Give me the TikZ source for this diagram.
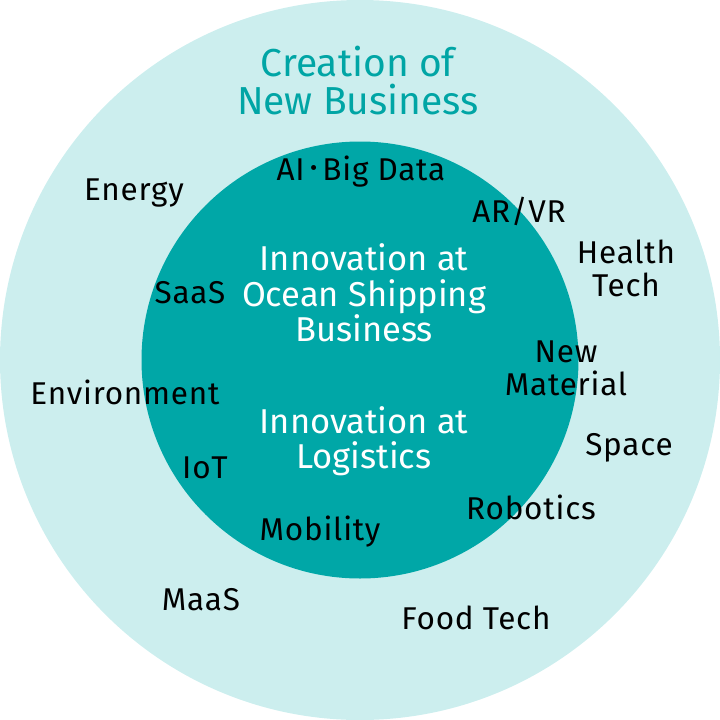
\documentclass[tikz,border=0pt]{standalone}
\usepackage{fontspec}
\setmainfont{Fira Sans}
\newfontfamily\fieldfont[LetterSpace=2.5]{Fira Sans}
\definecolor{outerfill}{HTML}{CCEEEE}
\definecolor{innerfill}{HTML}{00A7A7}
\definecolor{titleteal}{HTML}{00A5A5}
\tikzset{
    field/.style={font=\fieldfont\fontsize{31.5}{33}\selectfont, text=black, align=center, inner sep=0pt},
    core/.style={font=\fontsize{34.5}{35.5}\selectfont, text=white, align=center, inner sep=0pt},
    title/.style={font=\fontsize{39}{38}\selectfont, text=titleteal, align=center, inner sep=0pt}
}
\begin{document}
\begin{tikzpicture}[x=1pt, y=-1pt]
\useasboundingbox (0,0) rectangle (720,720);
\fill[outerfill](360,360) circle (360);
\fill[innerfill](360,360) circle (218.5);
\node[title] (creation) at (358,81) {Creation of\\New Business};
\node[core] (ocean) at (364,293) {Innovation at\\Ocean Shipping\\Business};
\node[core] (logistics) at (364,441) {Innovation at\\Logistics};
\node[field] (bigdata) at (361,172) {AI\,\raisebox{0.3ex}{\scalebox{0.7}{•}}\,Big Data};
\node[field] (arvr) at (519,211) {AR/VR};
\node[field] (energy) at (134,193) {Energy};
\node[field] (health) at (626,268) {Health\\Tech};
\node[field] (saas) at (190,293) {SaaS};
\node[field] (material) at (566,368) {New\\Material};
\node[field] (environment) at (125,392) {Environment};
\node[field] (space) at (629,448) {Space};
\node[field] (iot) at (205,468) {IoT};
\node[field] (robotics) at (531,507) {Robotics};
\node[field] (mobility) at (320,532) {Mobility};
\node[field] (maas) at (201,600) {MaaS};
\node[field] (food) at (476,618) {Food Tech};
\end{tikzpicture}
\end{document}
